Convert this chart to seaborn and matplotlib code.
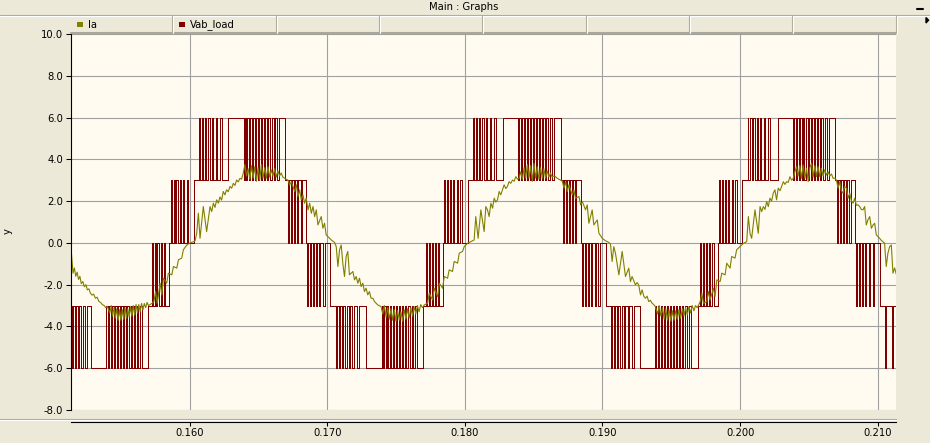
import numpy as np
import pandas as pd
import matplotlib
matplotlib.use("Agg")
import matplotlib.pyplot as plt
import seaborn as sns
from matplotlib.lines import Line2D
from matplotlib.patches import Rectangle, Polygon

# Ia current, time in ms
ia_ms = [
    151.33, 151.40, 151.52, 151.62, 151.72, 151.82, 151.92, 152.02, 152.12, 152.24,
    152.34, 152.46, 152.56, 152.68, 152.78, 152.90, 153.02, 153.15, 153.27, 153.40,
    153.52, 153.65, 153.78, 153.90, 154.02, 154.10, 154.20, 154.30, 154.40, 154.50,
    154.60, 154.70, 154.80, 154.90, 155.00, 155.10, 155.20, 155.30, 155.40, 155.50,
    155.60, 155.70, 155.80, 155.90, 156.00, 156.10, 156.20, 156.30, 156.40, 156.50,
    156.60, 156.70, 156.80, 156.90, 157.00, 157.13, 157.25, 157.40, 157.52, 157.64,
    157.85, 157.97, 158.09, 158.33, 158.45, 158.70, 158.82, 159.06, 159.18, 159.42,
    159.54, 159.79, 160.03, 160.27, 160.39, 160.51, 160.63, 160.75, 160.99, 161.23,
    161.48, 161.60, 161.72, 161.84, 161.96, 162.08, 162.20, 162.32, 162.44, 162.56,
    162.68, 162.80, 162.93, 163.05, 163.17, 163.29, 163.41, 163.53, 163.65, 163.77,
    163.89, 164.01, 164.13, 164.25, 164.37, 164.49, 164.61, 164.73, 164.85, 164.97,
    165.09, 165.21, 165.33, 165.45, 165.57, 165.69, 165.81, 165.93, 166.05, 166.17,
    166.29, 166.41, 166.53, 166.65, 166.77, 166.89, 167.01, 167.15, 167.27, 167.39,
    167.63, 167.75, 167.87, 167.99, 168.11, 168.23, 168.35, 168.47, 168.60, 168.72,
    168.84, 168.96, 169.08, 169.20, 169.32, 169.56, 169.68, 169.80, 169.92, 170.04,
    170.29, 170.53, 170.65, 170.77, 170.89, 171.01, 171.13, 171.25, 171.37, 171.49,
    171.61, 171.74, 171.86, 171.98, 172.10, 172.22, 172.34, 172.46, 172.58, 172.70,
    172.82, 172.94, 173.06, 173.18, 173.31, 173.43, 173.67, 173.91, 174.03, 174.15,
    174.27, 174.39, 174.51, 174.63, 174.75, 174.87, 174.99, 175.11, 175.23, 175.35,
    175.47, 175.59, 175.71, 175.83, 175.95, 176.07, 176.19, 176.31, 176.43, 176.55,
    176.67, 176.79, 176.91, 177.05, 177.29, 177.41, 177.65, 177.77, 178.02, 178.14,
    178.38, 178.50, 178.74, 178.86, 179.10, 179.22, 179.47, 179.59, 179.83, 179.95,
    180.19, 180.43, 180.67, 180.79, 180.96, 181.16, 181.40, 181.52, 181.64, 181.76,
    181.89, 182.01, 182.13, 182.25, 182.37, 182.49, 182.61, 182.73, 182.85, 182.97,
    183.09, 183.21, 183.33, 183.46, 183.58, 183.70, 183.82, 183.94, 184.06, 184.18,
    184.30, 184.42, 184.54, 184.66, 184.78, 184.90, 185.02, 185.14, 185.26, 185.38,
    185.50, 185.62, 185.74, 185.86, 185.98, 186.10, 186.22, 186.34, 186.46, 186.58,
    186.70, 186.82, 186.94, 187.08, 187.20, 187.32, 187.44, 187.56, 187.80, 187.92,
    188.04, 188.29, 188.41, 188.53, 188.77, 188.89, 189.01, 189.25, 189.37, 189.62,
    189.74, 189.98, 190.22, 190.46, 190.58, 190.70, 190.82, 190.94, 191.19, 191.43,
    191.67, 191.91, 192.03, 192.15, 192.39, 192.51, 192.63, 192.76, 192.88, 193.00,
    193.12, 193.24, 193.36, 193.48, 193.60, 193.72, 193.84, 194.00, 194.12, 194.24,
    194.36, 194.48, 194.60, 194.72, 194.84, 194.96, 195.08, 195.20, 195.32, 195.44,
    195.56, 195.68, 195.80, 195.92, 196.04, 196.16, 196.28, 196.40, 196.52, 196.64,
    196.76, 196.88, 197.00, 197.10, 197.22, 197.34, 197.58, 197.70, 197.82, 198.06,
    198.18, 198.31, 198.55, 198.67, 198.91, 199.03, 199.27, 199.39, 199.63, 199.75,
    199.99, 200.24, 200.48, 200.60, 200.72, 200.84, 201.08, 201.32, 201.45, 201.57,
    201.69, 201.81, 201.93, 202.05, 202.17, 202.29, 202.41, 202.53, 202.65, 202.77,
    202.90, 203.02, 203.14, 203.26, 203.38, 203.50, 203.62, 203.74, 203.86, 203.98,
    204.10, 204.22, 204.34, 204.46, 204.58, 204.71, 204.83, 204.95, 205.07, 205.19,
    205.31, 205.43, 205.55, 205.67, 205.79, 205.91, 206.03, 206.15, 206.28, 206.40,
    206.52, 206.64, 206.76, 206.88, 207.00, 207.12, 207.24, 207.36, 207.48, 207.60,
    207.73, 207.85, 207.97, 208.09, 208.21, 208.33, 208.45, 208.57, 208.69, 208.81,
    208.93, 209.05, 209.17, 209.29, 209.42, 209.54, 209.66, 209.78, 209.90, 210.02,
    210.14, 210.26, 210.38, 210.50, 210.62, 210.74, 210.87, 210.99, 211.11, 211.23,
    211.35,
]
ia_val = [
    -1.30, -0.45, -1.45, -1.20, -1.60, -1.40, -1.75, -1.60, -1.95, -1.85,
    -2.10, -2.00, -2.25, -2.20, -2.40, -2.50, -2.45, -2.65, -2.60, -2.80,
    -2.85, -2.95, -3.00, -3.10, -3.05, -3.20, -3.35, -3.00, -3.50, -3.10,
    -3.60, -3.15, -3.70, -3.20, -3.70, -3.20, -3.65, -3.10, -3.60, -3.15,
    -3.55, -3.05, -3.50, -3.00, -3.45, -2.95, -3.35, -2.95, -3.30, -2.90,
    -3.20, -2.90, -3.10, -2.85, -3.00, -2.95, -2.90, -2.81, -2.33, -2.89,
    -1.93, -2.49, -1.69, -1.93, -1.45, -1.53, -1.13, -1.21, -0.81, -0.73,
    -0.33, -0.10, 0.00, 0.05, 0.10, 0.46, 1.42, 0.22, 1.74, 0.54,
    1.74, 1.50, 1.90, 1.70, 2.06, 1.90, 2.20, 2.05, 2.46, 2.30,
    2.54, 2.45, 2.70, 2.62, 2.85, 2.75, 3.01, 2.92, 3.09, 3.05,
    3.33, 3.75, 3.20, 3.55, 3.05, 3.70, 3.10, 3.65, 2.95, 3.60,
    3.00, 3.75, 3.10, 3.60, 3.10, 3.65, 3.15, 3.50, 3.20, 3.55,
    3.15, 3.45, 3.20, 3.35, 3.15, 3.10, 3.05, 3.00, 2.78, 2.93,
    2.46, 2.78, 2.22, 2.54, 2.06, 2.30, 1.90, 2.14, 1.58, 1.90,
    1.42, 1.74, 1.26, 1.58, 0.86, 1.26, 0.70, 0.94, 0.38, 0.30,
    0.14, 0.02, -0.18, -1.13, -0.33, -0.10, -1.00, -1.61, -0.65, -0.41,
    -1.53, -1.45, -1.37, -1.77, -1.61, -1.93, -1.69, -2.09, -1.93, -2.33,
    -2.17, -2.49, -2.33, -2.65, -2.65, -2.81, -2.97, -3.05, -3.40, -3.00,
    -3.55, -3.10, -3.65, -3.15, -3.70, -3.20, -3.75, -3.25, -3.70, -3.30,
    -3.75, -3.20, -3.65, -3.15, -3.60, -3.10, -3.50, -3.05, -3.40, -3.00,
    -3.30, -2.95, -3.10, -2.97, -2.89, -2.41, -2.73, -2.17, -2.57, -1.93,
    -2.17, -1.61, -1.69, -1.29, -1.37, -0.89, -0.97, -0.49, -0.41, -0.18,
    -0.02, 0.06, 0.14, 1.26, 0.22, 1.58, 0.54, 1.74, 1.58, 1.26,
    1.90, 1.66, 2.14, 1.95, 2.06, 2.46, 2.30, 2.54, 2.78, 2.60,
    2.70, 2.93, 2.85, 3.01, 2.95, 3.17, 3.05, 3.09, 3.41, 3.05,
    3.60, 3.10, 3.75, 3.10, 3.70, 2.95, 3.80, 3.10, 3.65, 3.05,
    3.60, 3.10, 3.55, 3.10, 3.45, 3.15, 3.35, 3.15, 3.20, 3.17,
    3.10, 3.05, 3.01, 2.95, 2.62, 2.93, 2.46, 2.78, 2.30, 2.54,
    2.14, 2.22, 1.82, 1.98, 1.58, 1.82, 0.94, 1.58, 0.86, 1.10,
    0.46, 0.22, 0.10, 0.02, -0.05, -0.89, -0.18, -0.49, -1.53, -0.41,
    -1.61, -1.21, -1.85, -1.61, -2.01, -1.90, -2.01, -2.49, -2.25, -2.55,
    -2.65, -2.55, -2.81, -2.75, -2.89, -2.95, -3.05, -3.40, -3.00, -3.50,
    -3.10, -3.65, -3.15, -3.70, -3.20, -3.75, -3.25, -3.70, -3.25, -3.65,
    -3.20, -3.60, -3.15, -3.50, -3.10, -3.45, -3.05, -3.35, -3.00, -3.25,
    -3.00, -3.10, -2.95, -2.81, -2.41, -2.89, -2.81, -2.33, -2.73, -2.17,
    -2.57, -1.77, -1.85, -1.45, -1.53, -0.97, -1.21, -0.65, -0.73, -0.33,
    -0.18, -0.02, 0.06, 1.26, 0.46, 0.22, 1.58, 0.46, 1.74, 1.50,
    1.74, 1.60, 1.98, 1.74, 2.14, 2.00, 2.38, 2.54, 2.06, 2.62,
    2.50, 2.70, 2.93, 2.80, 2.93, 2.90, 3.17, 3.00, 3.09, 3.40,
    3.65, 3.20, 3.70, 3.10, 3.73, 3.09, 3.57, 2.93, 3.60, 3.81,
    3.15, 3.70, 3.17, 3.65, 3.17, 3.57, 3.20, 3.50, 3.25, 3.40,
    3.20, 3.30, 3.09, 3.10, 3.01, 2.62, 2.93, 2.50, 2.38, 2.70,
    2.62, 2.14, 2.38, 2.00, 1.90, 2.14, 1.80, 1.82, 1.74, 1.60,
    1.58, 1.74, 0.86, 1.10, 1.26, 0.70, 0.85, 0.94, 0.38, 0.30,
    0.22, 0.12, 0.06, -0.02, -1.13, -0.50, -0.18, -0.10, -1.45, -1.20,
    -1.50,
]

# Vab_load: switching bands (level before -> level after) and edge times in ms
vab_from = [-3, -6, -3, 0, 3, 6, 3, 0, -3, -6, -3, 0, 3, 6, 3, 0, -3, -6, -3, 0, 3, 6, 3, 0, -3]
vab_to = [-6, -3, 0, 3, 6, 3, 0, -3, -6, -3, 0, 3, 6, 3, 0, -3, -6, -3, 0, 3, 6, 3, 0, -3, -6]
vab_edges = [
    [151.45, 151.52, 151.66, 151.76, 151.88, 151.98, 152.12, 152.24, 152.38, 152.55, 152.83],
    [153.93, 154.05, 154.12, 154.27, 154.34, 154.48, 154.56, 154.70, 154.79, 154.92,
     155.02, 155.14, 155.25, 155.36, 155.48, 155.58, 155.71, 155.80, 155.94, 156.02,
     156.17, 156.25, 156.42, 156.50, 157.00],
    [157.25, 157.31, 157.45, 157.52, 157.66, 157.74, 157.88, 157.97, 158.12, 158.22, 158.50],
    [158.62, 158.70, 158.83, 158.90, 159.04, 159.12, 159.27, 159.35, 159.52, 159.60,
     159.80, 159.90, 160.31],
    [160.70, 160.76, 160.90, 160.98, 161.12, 161.20, 161.35, 161.45, 161.60, 161.70,
     161.88, 161.98, 162.20, 162.35, 162.80],
    [163.93, 164.00, 164.12, 164.20, 164.33, 164.40, 164.54, 164.62, 164.75, 164.84,
     164.97, 165.06, 165.19, 165.28, 165.41, 165.50, 165.63, 165.72, 165.86, 165.96,
     166.10, 166.22, 166.38, 166.52, 166.91],
    [167.14, 167.20, 167.34, 167.42, 167.56, 167.65, 167.80, 167.90, 168.06, 168.18, 168.48],
    [168.52, 168.60, 168.73, 168.80, 168.94, 169.02, 169.17, 169.25, 169.42, 169.50,
     169.70, 169.80, 170.22],
    [170.65, 170.71, 170.85, 170.93, 171.07, 171.15, 171.30, 171.40, 171.55, 171.65,
     171.83, 171.93, 172.15, 172.30, 172.83],
    [173.96, 174.03, 174.15, 174.23, 174.36, 174.43, 174.57, 174.65, 174.78, 174.87,
     175.00, 175.09, 175.22, 175.31, 175.44, 175.53, 175.66, 175.75, 175.89, 175.99,
     176.13, 176.25, 176.41, 176.55, 176.93],
    [177.17, 177.23, 177.37, 177.44, 177.58, 177.66, 177.80, 177.89, 178.04, 178.14, 178.38],
    [178.50, 178.58, 178.71, 178.78, 178.92, 179.00, 179.15, 179.23, 179.40, 179.48,
     179.68, 179.78, 180.19],
    [180.62, 180.68, 180.82, 180.90, 181.04, 181.12, 181.27, 181.37, 181.52, 181.62,
     181.80, 181.90, 182.12, 182.27, 182.78],
    [183.88, 183.95, 184.07, 184.15, 184.28, 184.35, 184.49, 184.57, 184.70, 184.79,
     184.92, 185.01, 185.14, 185.23, 185.36, 185.45, 185.58, 185.67, 185.81, 185.91,
     186.05, 186.17, 186.33, 186.47, 186.96],
    [187.14, 187.20, 187.34, 187.41, 187.55, 187.63, 187.77, 187.86, 188.01, 188.11, 188.41],
    [188.52, 188.60, 188.73, 188.80, 188.94, 189.02, 189.17, 189.25, 189.42, 189.50,
     189.70, 189.80, 190.22],
    [190.65, 190.71, 190.85, 190.93, 191.07, 191.15, 191.30, 191.40, 191.55, 191.65,
     191.83, 191.93, 192.15, 192.30, 192.75],
    [193.84, 193.91, 194.03, 194.11, 194.24, 194.31, 194.45, 194.53, 194.66, 194.75,
     194.88, 194.97, 195.10, 195.19, 195.32, 195.41, 195.54, 195.63, 195.77, 195.87,
     196.01, 196.13, 196.29, 196.43, 196.91],
    [197.10, 197.16, 197.30, 197.37, 197.51, 197.59, 197.73, 197.82, 197.97, 198.07, 198.43],
    [198.48, 198.56, 198.69, 198.76, 198.90, 198.98, 199.13, 199.21, 199.38, 199.46,
     199.66, 199.76, 200.17],
    [200.55, 200.61, 200.75, 200.83, 200.97, 201.05, 201.20, 201.30, 201.45, 201.55,
     201.73, 201.83, 202.05, 202.20, 202.78],
    [203.86, 203.93, 204.05, 204.13, 204.26, 204.33, 204.47, 204.55, 204.68, 204.77,
     204.90, 204.99, 205.12, 205.21, 205.34, 205.43, 205.56, 205.65, 205.79, 205.89,
     206.03, 206.15, 206.31, 206.45, 206.88],
    [207.07, 207.13, 207.27, 207.34, 207.48, 207.56, 207.70, 207.79, 207.94, 208.04, 208.33],
    [208.45, 208.53, 208.66, 208.73, 208.87, 208.95, 209.10, 209.18, 209.35, 209.43,
     209.63, 209.73, 210.14],
    [210.55, 210.60, 211.02, 211.08],
]
vab_start_ms = 151.30
vab_end_ms = 211.40

series_names = ["Ia", "Vab_load"]
series_colors = ["#808000", "#800000"]
x_ticks = [0.160, 0.170, 0.180, 0.190, 0.200, 0.210]
y_ticks = [-8.0, -6.0, -4.0, -2.0, 0.0, 2.0, 4.0, 6.0, 8.0, 10.0]

# build the stepped Vab trace
vab_t = [vab_start_ms]
vab_v = [vab_from[0]]
level = vab_from[0]
for lo, hi, edges in zip(vab_from, vab_to, vab_edges):
    cur, nxt = lo, hi
    for e in edges:
        vab_t += [e, e]
        vab_v += [cur, nxt]
        cur, nxt = nxt, cur
    level = cur
vab_t.append(vab_end_ms)
vab_v.append(level)

vab_df = pd.DataFrame({"t": np.array(vab_t) / 1000, "v": vab_v})
ia_df = pd.DataFrame({"t": np.array(ia_ms) / 1000, "v": ia_val})

W, H = 930, 443
def fx(px):
    return px / W
def fy(py):
    return 1 - py / H

frame = "#ECE9D8"
edge = "#ACA899"

sns.set_theme(style="white")
plt.rcParams["font.family"] = ["DejaVu Sans"]

fig = plt.figure(figsize=(W / 100, H / 100), dpi=100)
fig.patch.set_facecolor(frame)
ax = fig.add_axes([fx(71), fy(410), fx(896) - fx(71), fy(34) - fy(410)])
ax.set_facecolor("#FFFBF0")

sns.lineplot(data=vab_df, x="t", y="v", sort=False, estimator=None,
             color=series_colors[1], lw=0.7, antialiased=False, ax=ax)
sns.lineplot(data=ia_df, x="t", y="v", sort=False, estimator=None,
             color=series_colors[0], lw=0.8, ax=ax)

ax.set_xlim(0.151374, 0.21133)
ax.set_ylim(-8, 10)
ax.set_xticks(x_ticks)
ax.set_xticklabels([f"{v:.3f}" for v in x_ticks])
ax.set_yticks(y_ticks)
ax.set_yticklabels([f"{v:.1f}" for v in y_ticks])
ax.grid(True, color="#A0A0A0", lw=0.8)
ax.set_axisbelow(True)
for s in ["top", "right"]:
    ax.spines[s].set_visible(False)
ax.spines["left"].set_color("black")
ax.spines["left"].set_linewidth(0.8)
ax.spines["bottom"].set_color("black")
ax.spines["bottom"].set_linewidth(0.8)
ax.spines["bottom"].set_position(("outward", 8.4))
ax.tick_params(axis="y", left=True, direction="out", length=3.6, width=0.75,
               color="black", pad=2, labelsize=7.2, labelcolor="black")
ax.tick_params(axis="x", bottom=True, direction="out", length=3, width=0.75,
               color="black", pad=1.5, labelsize=7.2, labelcolor="black")
ax.set_xlabel("")
ax.set_ylabel("y", fontsize=7.2, color="black")
ax.yaxis.set_label_coords(-0.071, 0.476)

# window chrome: title bar, legend strip, separators
fig.text(fx(464), fy(6.5), "Main : Graphs", ha="center", va="center", fontsize=7.2, color="black")
fig.add_artist(Line2D([0, 1], [fy(14.5), fy(14.5)], color=edge, lw=0.8))
fig.add_artist(Line2D([0, 1], [fy(15.5), fy(15.5)], color="white", lw=0.8))
fig.add_artist(Line2D([fx(917), fx(923)], [fy(9), fy(9)], color="black", lw=1.5))
fig.add_artist(Polygon([[fx(926), fy(17.5)], [fx(926), fy(23)], [fx(928.5), fy(20.2)]],
                       closed=True, color="black", transform=fig.transFigure))

fig.add_artist(Line2D([fx(71), fx(896)], [fy(33), fy(33)], color=edge, lw=1.5))
for cx in [172, 276, 379, 482, 586, 689, 792, 896]:
    fig.add_artist(Line2D([fx(cx), fx(cx)], [fy(16), fy(33)], color=edge, lw=0.8))
    fig.add_artist(Line2D([fx(cx + 1), fx(cx + 1)], [fy(16), fy(33)], color="white", lw=0.8))

for i, (name, col) in enumerate(zip(series_names, series_colors)):
    x0 = [77, 179][i]
    fig.add_artist(Rectangle((fx(x0), fy(26.5)), fx(6), fy(0) - fy(4.5),
                             facecolor=col, edgecolor="none", transform=fig.transFigure))
    fig.text(fx(x0 + 11), fy(24.5), name, ha="left", va="center", fontsize=7.2, color="black")

fig.add_artist(Line2D([0, fx(896)], [fy(419), fy(419)], color=edge, lw=0.8))
fig.add_artist(Line2D([0, fx(896)], [fy(420), fy(420)], color="white", lw=0.8))

fig.savefig("out.png", dpi=100, facecolor=frame)
